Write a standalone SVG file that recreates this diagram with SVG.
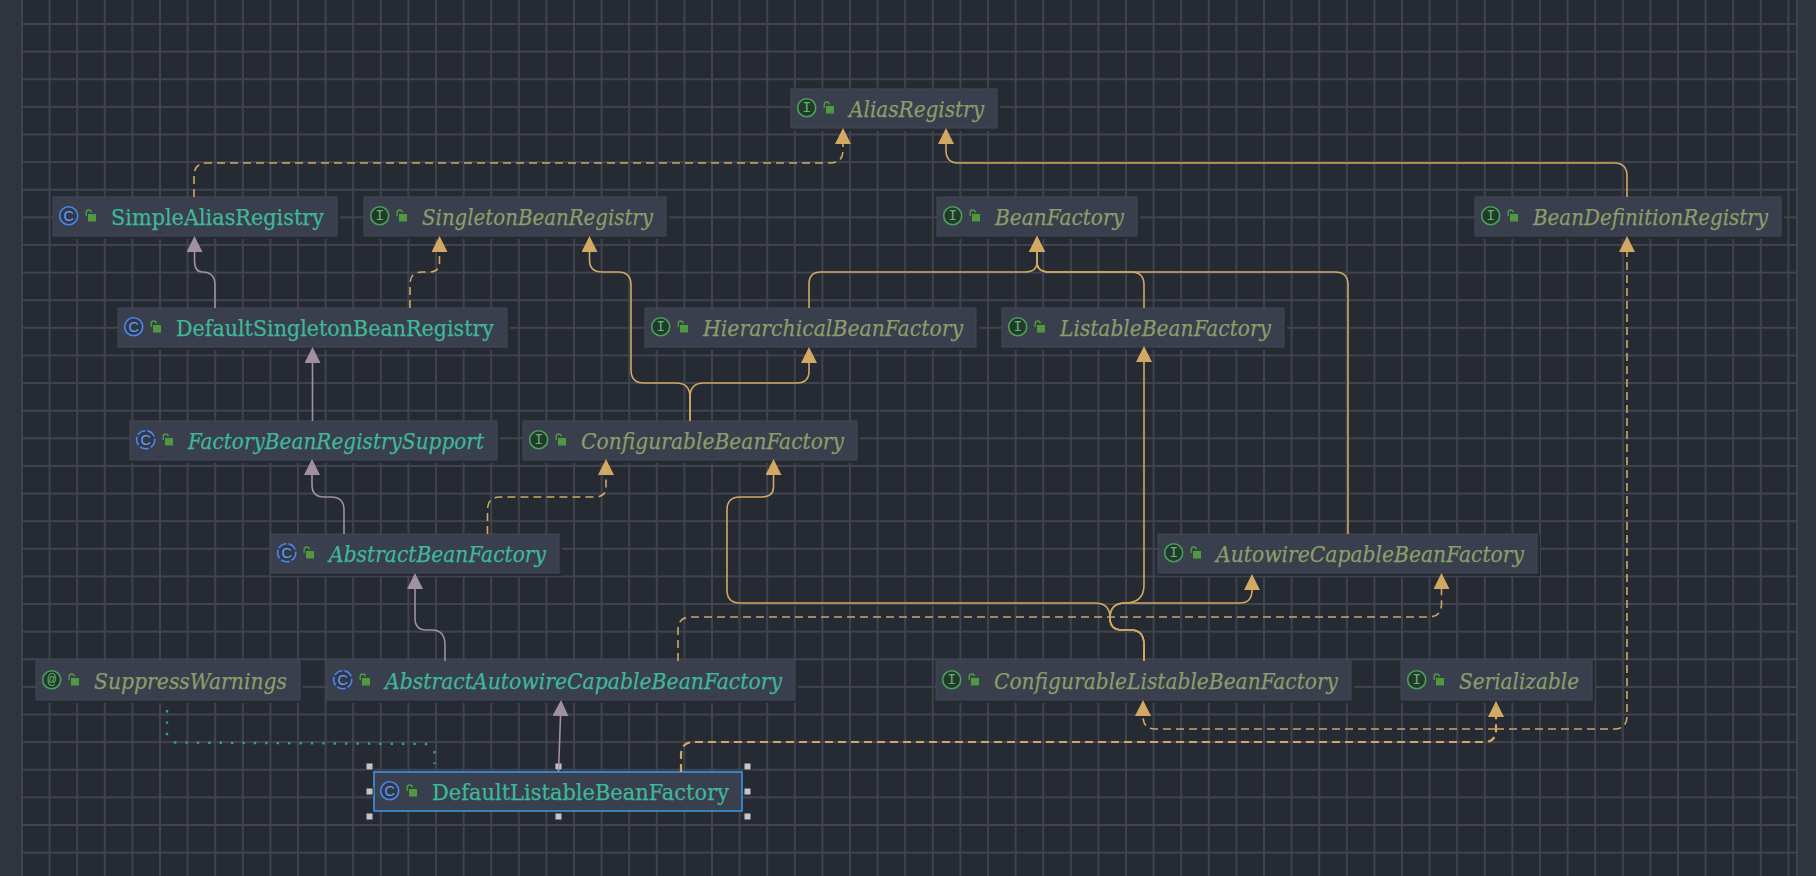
<svg xmlns="http://www.w3.org/2000/svg" width="1816" height="876" viewBox="0 0 1816 876">
<style>
.halo{fill:#262a33}
.box{fill:#3a3f4d;stroke:#444957;stroke-width:1}
.sel{fill:#3a3f4d;stroke:#3a94e6;stroke-width:1.6}
.t{font-family:"DejaVu Serif","Liberation Serif",serif;font-size:23px;stroke-width:.25}
.teal{fill:#3fb898;stroke:#3fb898}
.olive{fill:#8c9d6b;stroke:#8c9d6b}
.i{font-style:italic}
.ic{fill:#223a2c;stroke:#4c9e5c;stroke-width:1.6}
.cc{fill:#30384c;stroke:#4b86e8;stroke-width:1.6}
.abs{stroke-dasharray:9 2}
.gl{font-family:"Liberation Mono",monospace;font-size:15px;text-anchor:middle;fill:#5fb56f}
.bl{font-family:"Liberation Sans",sans-serif;font-size:14.5px;text-anchor:middle;fill:#6d9eee}
.c{fill:none;stroke-width:1.6}
.g{stroke:#cfa862}
.d{stroke-dasharray:8 5}
.w{stroke-width:2.2}
.p{stroke:#a08fa5}
.dot{fill:none;stroke:#2fa58c;stroke-width:2.4;stroke-dasharray:2.4 9}
.h{fill:#c6c6c6;stroke:#2a2d35;stroke-width:1}
</style>
<defs>
<pattern id="grid" patternUnits="userSpaceOnUse" x="8.2" y="10.2" width="27.6" height="27.62">
<path d="M13.8 0V27.62M0 13.81H27.6" fill="none" stroke="#41444e" stroke-width="1.9"/>
</pattern>
<marker id="ag" markerUnits="userSpaceOnUse" markerWidth="16" markerHeight="16" refX="0" refY="8" orient="auto" viewBox="0 0 16 16"><path d="M0 0L16 8L0 16Z" fill="#d1a964"/></marker>
<marker id="ap" markerUnits="userSpaceOnUse" markerWidth="16" markerHeight="16" refX="0" refY="8" orient="auto" viewBox="0 0 16 16"><path d="M0 0L16 8L0 16Z" fill="#a08fa5"/></marker>
<symbol id="lock" overflow="visible"><path d="M33.2 19V15.5a2.5 2.5 0 0 1 5 0" fill="none" stroke="#4f9a3f" stroke-width="1.4"/><rect x="35" y="17" width="8" height="7.5" fill="#4f9a3f"/></symbol>
</defs>
<rect width="1816" height="876" fill="#262a33"/>
<rect x="21" width="1777" height="876" fill="url(#grid)"/>
<rect width="21" height="876" fill="#30343f"/>
<rect x="1798" width="18" height="876" fill="#30343f"/>
<rect x="1796" width="2" height="876" fill="#41444e"/>

<g id="AliasRegistry" transform="translate(791 89)"><rect class="halo" width="209" height="42"/><rect class="box" width="206" height="39"/><circle class="ic" cx="15.7" cy="18.7" r="9"/><text class="gl" x="15.7" y="23">I</text><use href="#lock"/><text class="t olive i" x="58" y="28" textLength="135" lengthAdjust="spacingAndGlyphs">AliasRegistry</text></g>
<g id="SimpleAliasRegistry" transform="translate(53 197)"><rect class="halo" width="287" height="42"/><rect class="box" width="284" height="39"/><circle class="cc" cx="15.7" cy="18.7" r="9"/><text class="bl" x="15.7" y="23.7">C</text><use href="#lock"/><text class="t teal" x="58" y="28" textLength="213" lengthAdjust="spacingAndGlyphs">SimpleAliasRegistry</text></g>
<g id="SingletonBeanRegistry" transform="translate(364 197)"><rect class="halo" width="305" height="42"/><rect class="box" width="302" height="39"/><circle class="ic" cx="15.7" cy="18.7" r="9"/><text class="gl" x="15.7" y="23">I</text><use href="#lock"/><text class="t olive i" x="58" y="28" textLength="231" lengthAdjust="spacingAndGlyphs">SingletonBeanRegistry</text></g>
<g id="BeanFactory" transform="translate(937 197)"><rect class="halo" width="203" height="42"/><rect class="box" width="200" height="39"/><circle class="ic" cx="15.7" cy="18.7" r="9"/><text class="gl" x="15.7" y="23">I</text><use href="#lock"/><text class="t olive i" x="58" y="28" textLength="129" lengthAdjust="spacingAndGlyphs">BeanFactory</text></g>
<g id="BeanDefinitionRegistry" transform="translate(1475 197)"><rect class="halo" width="309" height="42"/><rect class="box" width="306" height="39"/><circle class="ic" cx="15.7" cy="18.7" r="9"/><text class="gl" x="15.7" y="23">I</text><use href="#lock"/><text class="t olive i" x="58" y="28" textLength="235" lengthAdjust="spacingAndGlyphs">BeanDefinitionRegistry</text></g>
<g id="DefaultSingletonBeanRegistry" transform="translate(118 308)"><rect class="halo" width="392" height="42"/><rect class="box" width="389" height="39"/><circle class="cc" cx="15.7" cy="18.7" r="9"/><text class="bl" x="15.7" y="23.7">C</text><use href="#lock"/><text class="t teal" x="58" y="28" textLength="318" lengthAdjust="spacingAndGlyphs">DefaultSingletonBeanRegistry</text></g>
<g id="HierarchicalBeanFactory" transform="translate(645 308)"><rect class="halo" width="334" height="42"/><rect class="box" width="331" height="39"/><circle class="ic" cx="15.7" cy="18.7" r="9"/><text class="gl" x="15.7" y="23">I</text><use href="#lock"/><text class="t olive i" x="58" y="28" textLength="260" lengthAdjust="spacingAndGlyphs">HierarchicalBeanFactory</text></g>
<g id="ListableBeanFactory" transform="translate(1002 308)"><rect class="halo" width="285" height="42"/><rect class="box" width="282" height="39"/><circle class="ic" cx="15.7" cy="18.7" r="9"/><text class="gl" x="15.7" y="23">I</text><use href="#lock"/><text class="t olive i" x="58" y="28" textLength="211" lengthAdjust="spacingAndGlyphs">ListableBeanFactory</text></g>
<g id="FactoryBeanRegistrySupport" transform="translate(130 421)"><rect class="halo" width="370" height="42"/><rect class="box" width="367" height="39"/><circle class="cc abs" cx="15.7" cy="18.7" r="9"/><text class="bl" x="15.7" y="23.7">C</text><use href="#lock"/><text class="t teal i" x="58" y="28" textLength="296" lengthAdjust="spacingAndGlyphs">FactoryBeanRegistrySupport</text></g>
<g id="ConfigurableBeanFactory" transform="translate(523 421)"><rect class="halo" width="337" height="42"/><rect class="box" width="334" height="39"/><circle class="ic" cx="15.7" cy="18.7" r="9"/><text class="gl" x="15.7" y="23">I</text><use href="#lock"/><text class="t olive i" x="58" y="28" textLength="263" lengthAdjust="spacingAndGlyphs">ConfigurableBeanFactory</text></g>
<g id="AbstractBeanFactory" transform="translate(271 534)"><rect class="halo" width="291" height="42"/><rect class="box" width="288" height="39"/><circle class="cc abs" cx="15.7" cy="18.7" r="9"/><text class="bl" x="15.7" y="23.7">C</text><use href="#lock"/><text class="t teal i" x="58" y="28" textLength="217" lengthAdjust="spacingAndGlyphs">AbstractBeanFactory</text></g>
<g id="AutowireCapableBeanFactory" transform="translate(1158 534)"><rect class="halo" width="382" height="42"/><rect class="box" width="379" height="39"/><circle class="ic" cx="15.7" cy="18.7" r="9"/><text class="gl" x="15.7" y="23">I</text><use href="#lock"/><text class="t olive i" x="58" y="28" textLength="308" lengthAdjust="spacingAndGlyphs">AutowireCapableBeanFactory</text></g>
<g id="SuppressWarnings" transform="translate(36 661)"><rect class="halo" width="267" height="42"/><rect class="box" width="264" height="39"/><circle class="ic" cx="15.7" cy="18.7" r="9"/><text class="gl" x="15.7" y="23">@</text><use href="#lock"/><text class="t olive i" x="58" y="28" textLength="193" lengthAdjust="spacingAndGlyphs">SuppressWarnings</text></g>
<g id="AbstractAutowireCapableBeanFactory" transform="translate(327 661)"><rect class="halo" width="471" height="42"/><rect class="box" width="468" height="39"/><circle class="cc abs" cx="15.7" cy="18.7" r="9"/><text class="bl" x="15.7" y="23.7">C</text><use href="#lock"/><text class="t teal i" x="58" y="28" textLength="397" lengthAdjust="spacingAndGlyphs">AbstractAutowireCapableBeanFactory</text></g>
<g id="ConfigurableListableBeanFactory" transform="translate(936 661)"><rect class="halo" width="418" height="42"/><rect class="box" width="415" height="39"/><circle class="ic" cx="15.7" cy="18.7" r="9"/><text class="gl" x="15.7" y="23">I</text><use href="#lock"/><text class="t olive i" x="58" y="28" textLength="344" lengthAdjust="spacingAndGlyphs">ConfigurableListableBeanFactory</text></g>
<g id="Serializable" transform="translate(1401 661)"><rect class="halo" width="194" height="42"/><rect class="box" width="191" height="39"/><circle class="ic" cx="15.7" cy="18.7" r="9"/><text class="gl" x="15.7" y="23">I</text><use href="#lock"/><text class="t olive i" x="58" y="28" textLength="120" lengthAdjust="spacingAndGlyphs">Serializable</text></g>
<g id="DefaultListableBeanFactory" transform="translate(374 772)"><rect class="sel" width="368" height="39"/><circle class="cc" cx="15.7" cy="18.7" r="9"/><text class="bl" x="15.7" y="23.7">C</text><use href="#lock"/><text class="t teal" x="58" y="28" textLength="297" lengthAdjust="spacingAndGlyphs">DefaultListableBeanFactory</text>
<rect class="h" x="-8" y="-9" width="7" height="7"/><rect class="h" x="181" y="-9" width="7" height="7"/><rect class="h" x="370" y="-9" width="7" height="7"/><rect class="h" x="-8" y="16" width="7" height="7"/><rect class="h" x="370" y="16" width="7" height="7"/><rect class="h" x="-8" y="41" width="7" height="7"/><rect class="h" x="181" y="41" width="7" height="7"/><rect class="h" x="370" y="41" width="7" height="7"/></g>

<g id="connectors">
<path class="c g d" marker-end="url(#ag)" d="M194 197V176Q194 163 207 163H830Q843 163 843 150V144"/>
<path class="c g" marker-end="url(#ag)" d="M1627 197V176Q1627 163 1614 163H958Q946 163 946 150V144"/>
<path class="c p" marker-end="url(#ap)" d="M215 308V285Q215 272 202 272Q194.5 272 194.5 260V252"/>
<path class="c g d" marker-end="url(#ag)" d="M410 308V284Q410 272 422 272H430Q439.5 272 439.5 262V252"/>
<path class="c p" marker-end="url(#ap)" d="M312.5 421V363"/>
<path class="c p" marker-end="url(#ap)" d="M344 534V510Q344 497 331 497H324Q312 497 312 485V475"/>
<path class="c g d" marker-end="url(#ag)" d="M487.5 534V510Q487.5 497 500 497H595Q606 497 606 487V475"/>
<path class="c p" marker-end="url(#ap)" d="M445 661V645Q445 630 432 630H426Q415 630 415 618V589"/>
<path class="c g d" marker-end="url(#ag)" d="M678 661V630Q678 617 691 617H1428Q1441.5 617 1441.5 604V589"/>
<path class="c p" marker-end="url(#ap)" d="M558.5 772L560.5 716"/>
<path class="c g d w" marker-end="url(#ag)" d="M681 772V755Q681 742 694 742H1484Q1496 742 1496 730V717"/>
<path class="c g d" marker-end="url(#ag)" d="M1496 729H1614Q1627 729 1627 716V252"/>
<path class="c g d" marker-end="url(#ag)" d="M1496 729H1155Q1143 729 1143 716"/>
<path class="c g" marker-end="url(#ag)" d="M690 421V397Q690 383 676 383H644Q631 383 631 370V285Q631 272 618 272H602Q589.5 272 589.5 260V252"/>
<path class="c g" marker-end="url(#ag)" d="M690 421V397Q690 383 704 383H797Q809 383 809 371V363"/>
<path class="c g" marker-end="url(#ag)" d="M809 308V284Q809 272 821 272H1025Q1037 272 1037 262V252"/>
<path class="c g" marker-end="url(#ag)" d="M1144 308V285Q1144 272 1131 272H1049Q1037 272 1037 262V252"/>
<path class="c g" marker-end="url(#ag)" d="M1348 534V285Q1348 272 1335 272H1049Q1037 272 1037 262V252"/>
<path class="c g" marker-end="url(#ag)" d="M1144 661V645Q1144 630 1131 630H1122Q1110 630 1110 618Q1110 603 1095 603H740Q727 603 727 590V510Q727 497 740 497H761Q773.5 497 773.5 487V475"/>
<path class="c g" marker-end="url(#ag)" d="M1144 661V645Q1144 630 1131 630H1122Q1110 630 1110 618Q1110 603 1125 603Q1144 603 1144 585V362"/>
<path class="c g" marker-end="url(#ag)" d="M1144 661V645Q1144 630 1131 630H1122Q1110 630 1110 618Q1110 603 1125 603H1240Q1252 603 1252 590"/>
<path class="dot" d="M167 710V744M174 742.5L430 744M434.5 751V764"/>
</g>
</svg>
